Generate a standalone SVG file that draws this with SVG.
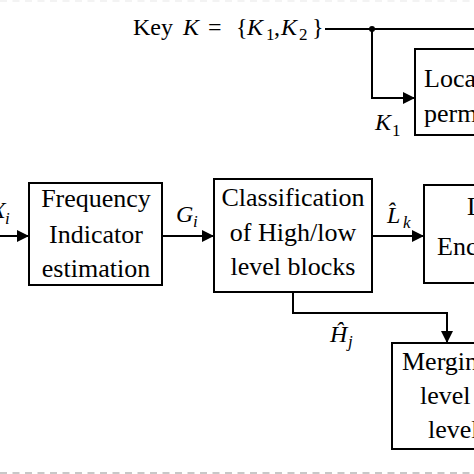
<svg xmlns="http://www.w3.org/2000/svg" width="474" height="474" viewBox="0 0 474 474">
<style>
.box{fill:none;stroke:#000;stroke-width:2}
.lbl{font-family:"Liberation Serif","Times New Roman",serif;font-size:26px;fill:#000}
.m{font-family:"Liberation Serif","Times New Roman",serif;font-size:24px;fill:#000}
.it{font-style:italic}
.sub{font-size:17px}
.wire{fill:none;stroke:#000;stroke-width:2}
</style>
<defs>
<marker id="ah" markerUnits="userSpaceOnUse" markerWidth="13" markerHeight="13" refX="12" refY="6" orient="auto">
<path d="M0,0 L12,6 L0,12 z" fill="#000"/>
</marker>
</defs>
<rect width="474" height="474" fill="#fff"/>
<line x1="0" y1="1" x2="474" y2="1" stroke="#efefef" stroke-width="1.5" stroke-dasharray="7 5.5"/>
<line x1="0" y1="473" x2="474" y2="473" stroke="#c8c8c8" stroke-width="2" stroke-dasharray="7 5.5"/>

<g id="key">
<text class="m" y="35"><tspan x="133">Key</tspan><tspan x="183" class="it">K</tspan><tspan x="208">=</tspan><tspan x="236">{</tspan><tspan x="247" class="it">K</tspan><tspan x="266" y="40" class="sub">1</tspan><tspan x="274" y="35">,</tspan><tspan x="281" class="it">K</tspan><tspan x="299" y="40" class="sub">2</tspan><tspan x="312" y="35">}</tspan></text>
</g>

<g id="connectors">
<line class="wire" x1="325" y1="29" x2="474" y2="29"/>
<circle cx="372" cy="29" r="3" fill="#000"/>
<polyline class="wire" points="372,29 372,98 415,98" marker-end="url(#ah)"/>
<line class="wire" x1="0" y1="236" x2="29" y2="236" marker-end="url(#ah)"/>
<line class="wire" x1="162" y1="236" x2="214" y2="236" marker-end="url(#ah)"/>
<line class="wire" x1="372" y1="236" x2="424" y2="236" marker-end="url(#ah)"/>
<polyline class="wire" points="293,292 293,313 447,313 447,343" marker-end="url(#ah)"/>
<text class="m it" x="375" y="130">K</text><text class="m sub" x="392" y="136">1</text>
<text class="m it" x="-9" y="218">X</text><text class="m it sub" x="5" y="224">i</text>
<text class="m it" x="176" y="222">G</text><text class="m it sub" x="193" y="227">i</text>
<text class="m it" x="387" y="223">L̂</text><text class="m it sub" x="403" y="228">k</text>
<text class="m it" x="330" y="342">Ĥ</text><text class="m it sub" x="348" y="347">j</text>
</g>

<g id="local">
<path class="box" d="M476,49 H415 V135 H476"/>
<text class="lbl" x="424" y="87">Local</text>
<text class="lbl" x="424" y="122">perm</text>
</g>

<g id="frequency">
<rect class="box" x="29" y="183" width="133" height="102"/>
<text class="lbl" text-anchor="middle" x="96" y="207">Frequency</text>
<text class="lbl" text-anchor="middle" x="96" y="243">Indicator</text>
<text class="lbl" text-anchor="middle" x="96" y="277">estimation</text>
</g>

<g id="classification">
<rect class="box" x="214" y="179" width="158" height="113"/>
<text class="lbl" text-anchor="middle" x="293" y="206">Classification</text>
<text class="lbl" text-anchor="middle" x="293" y="241">of High/low</text>
<text class="lbl" text-anchor="middle" x="293" y="275">level blocks</text>
</g>

<g id="encoding">
<path class="box" d="M476,185 H424 V283 H476"/>
<text class="lbl" x="467" y="215">L</text>
<text class="lbl" x="437" y="255">Enc</text>
</g>

<g id="merging">
<path class="box" d="M476,343 H392 V449 H476"/>
<text class="lbl" x="402" y="370">Mergin</text>
<text class="lbl" x="420" y="404">level</text>
<text class="lbl" x="428" y="438">level</text>
</g>
</svg>
